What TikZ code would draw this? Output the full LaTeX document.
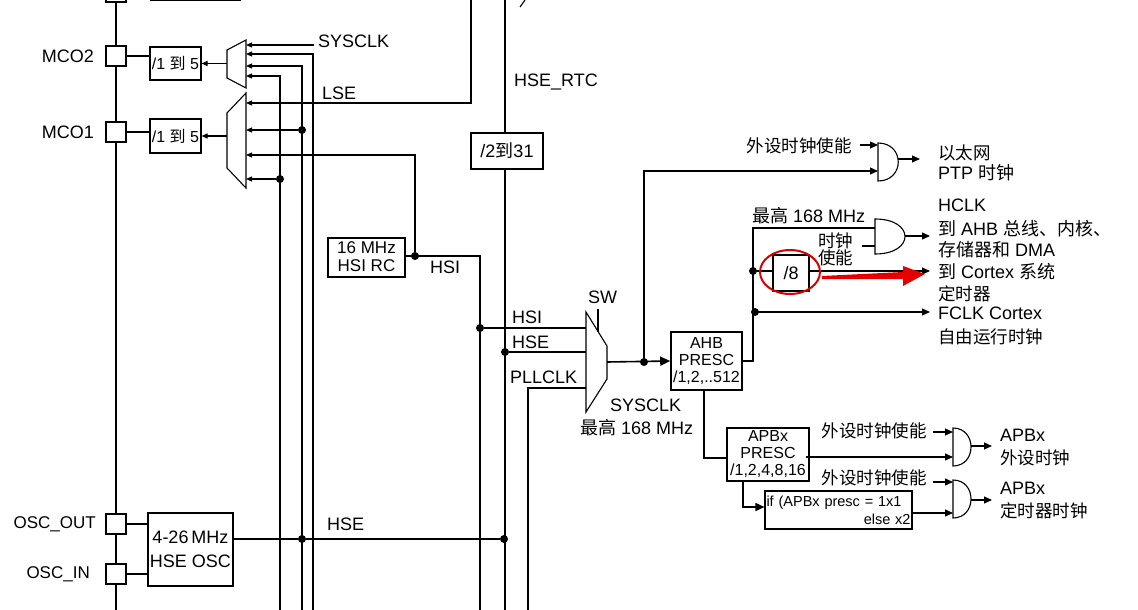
\documentclass[tikz,border=0pt]{standalone}
\usepackage{fontspec}
\setmainfont{Liberation Sans}
\newfontfamily\cjk{Noto Sans CJK SC}
\usetikzlibrary{arrows.meta}
\tikzset{
  wire/.style={line width=1.1pt},
  arr/.style={wire,-{Triangle[length=8pt,width=7pt]}},
  sarr/.style={wire,-{Triangle[length=6pt,width=5pt]}},
  lbl/.style={inner sep=0pt,anchor=west,font=\fontsize{18}{21}\selectfont},
  cjl/.style={lbl,font=\cjk\fontsize{17.5}{20}\selectfont},
  pad/.style={draw,fill=white,line width=1.4pt,minimum size=20pt,inner sep=0pt},
  blk/.style={draw,fill=white,line width=1.1pt,inner sep=0pt,align=center,font=\fontsize{16}{18}\selectfont},
  jdot/.style={circle,fill,inner sep=0pt,minimum size=8pt}
}
% and gate: x, y top, y bottom, bulge
\newcommand\andgate[4]{\draw[wire,fill=white] (#1,#2) -- (#1,#3) .. controls ({#1+#4},#3) and ({#1+#4},#2) .. cycle;}
\begin{document}
\begin{tikzpicture}[x=1pt,y=-1pt]
\useasboundingbox (0,0) rectangle (1138,610);

% pins bus
\draw[line width=2pt] (116,0) -- (116,610);
\draw[line width=1.4pt,fill=white] (106,-10) rectangle (126,2);
\draw[wire] (150,0.5) -- (241,0.5);
\node[pad] (mco2) at (116,56) {};
\node[pad] (mco1) at (116,132) {};
\node[pad] (oscout) at (116,524) {};
\node[pad] (oscin) at (116,574) {};
\node[lbl,anchor=east] at (94,56) {MCO2};
\node[lbl,anchor=east] at (94,132) {MCO1};
\node[lbl,anchor=east,font=\fontsize{17}{20}\selectfont] at (96,524) {OSC\_OUT};
\node[lbl,anchor=east,font=\fontsize{17}{20}\selectfont] at (90,574) {OSC\_IN};

% MCO prescalers
\node[blk,minimum width=51pt,minimum height=33pt] (dv2) at (175.5,63.5) {/1 {\cjk 到} 5};
\node[blk,minimum width=51pt,minimum height=34pt] (dv1) at (175.5,136) {/1 {\cjk 到} 5};
\draw[wire] (mco2.east) -- (mco2.east -| dv2.west);
\draw[wire] (mco1.east) -- (mco1.east -| dv1.west);

% MCO muxes
\draw[wire] (227,50) -- (246,40) -- (246,88) -- (227,78) -- cycle;
\draw[wire] (227,113) -- (246,93) -- (246,188) -- (227,168) -- cycle;
\coordinate (m2o) at (227,63.5);
\coordinate (m1o) at (227,136);
\draw[sarr] (m2o) -- (dv2.east);
\draw[sarr] (m1o) -- (dv1.east);

% mux inputs
\draw[sarr] (314,45) -- (246,45);
\node[lbl] at (318,41) {SYSCLK};
\draw[sarr] (313,610) -- (313,54) -- (246,54);
\draw[sarr] (302,610) -- (302,66) -- (246,66);
\draw[sarr] (280,610) -- (280,76) -- (246,76);
\draw[sarr] (471,0) -- (471,103) -- (246,103);
\node[lbl] at (322,93) {LSE};
\node[jdot] (j302) at (302,130) {};
\draw[sarr] (j302) -- (246,130);
\node[jdot] (j280) at (280,179) {};
\draw[sarr] (j280) -- (246,179);

% HSI RC
\node[blk,line width=2pt,minimum width=77pt,minimum height=39pt,font=\fontsize{17}{18}\selectfont] (hsirc) at (366.5,257) {16 MHz\\HSI RC};
\node[jdot] (jhsi) at (415,256) {};
\draw[sarr] (jhsi) -- (415,155) -- (246,155);
\draw[wire] (hsirc.east |- jhsi) -- (480,256) -- (480,610);
\node[lbl] at (430,267) {HSI};

% HSE_RTC
\draw[wire] (505,0) -- (505,610);
\draw[wire] (520,7) -- (525,0);
\node[blk,line width=1.6pt,minimum width=72pt,minimum height=36pt,font=\fontsize{18}{20}\selectfont] (d231) at (507,151) {/2{\cjk 到}31};
\node[lbl] at (514,82) {HSE\_RTC};

% HSE OSC
\node[blk,line width=1.4pt,minimum width=85pt,minimum height=73pt,font=\fontsize{18}{24}\selectfont] (hseosc) at (190.5,549.5) {4-26\,MHz\\HSE OSC};
\draw[wire] (oscout.east) -- (oscout.east -| hseosc.west);
\draw[wire] (oscin.east) -- (oscin.east -| hseosc.west);
\node[jdot] (jhse1) at (302,539) {};
\node[jdot] (jhse2) at (504,539) {};
\draw[line width=1.6pt] (hseosc.east |- jhse1) -- (jhse1) -- (jhse2);
\node[lbl] at (327,524) {HSE};

% system clock mux
\node[jdot] (jhsi2) at (480,328) {};
\node[jdot] (jhse3) at (505,352) {};
\draw[line width=1.6pt] (jhsi2) -- (586,328);
\draw[wire] (jhse3) -- (586,352);
\draw[wire] (528,610) -- (528,388) -- (586,388);
\node[lbl] at (512,317) {HSI};
\node[lbl] at (512,342) {HSE};
\node[lbl] at (510,377) {PLLCLK};
\draw[wire] (586,312) -- (607,346) -- (607,379) -- (586,412) -- cycle;
\draw[line width=1.6pt] (598,309) -- (598,332);
\node[lbl] at (588,297) {SW};
\node[lbl] at (610,405) {SYSCLK};
\node[lbl] at (580,428) {{\cjk 最高} 168 MHz};

% AHB prescaler
\node[blk,line width=1.6pt,minimum width=71pt,minimum height=58pt,font=\fontsize{16}{17}\selectfont] (ahb) at (706.5,361) {AHB\\PRESC\\/1,2,..512};
\node[jdot] (jsys) at (644,362) {};
\draw[line width=1.6pt,-{Triangle[length=10pt,width=9pt]}] (607,362) -- (ahb.west);
\draw[arr] (jsys) -- (644,171) -- (878,171);

% ethernet PTP
\andgate{878}{143}{181}{27}
\draw[arr] (860,145) -- (878,145);
\node[cjl,anchor=east] at (852,146) {外设时钟使能};
\draw[arr] (898,159) -- (920,159);
\node[cjl] at (938,153) {以太网};
\node[lbl] at (938,173) {PTP {\cjk 时钟}};

% HCLK
\node[jdot] (jd8) at (753,271) {};
\node[jdot] (jfclk) at (755,312) {};
\draw[line width=1.6pt] (742,361) -- (753,361) -- (753,228) -- (875,228);
\andgate{875}{219}{254}{40}
\draw[line width=1.6pt] (862,246) -- (875,246);
\draw[arr] (905,236) -- (930,236);
\node[lbl] at (752,216) {{\cjk 最高} 168 MHz};
\node[cjl,align=center,font=\cjk\fontsize{17.5}{17}\selectfont] at (818,249) {时钟\\使能};
\node[lbl] at (938,205) {HCLK};
\node[lbl] at (938,229) {{\cjk 到} AHB {\cjk 总线、内核、}};
\node[lbl] at (938,250) {{\cjk 存储器和} DMA};

% Cortex system timer
\node[blk,line width=1.6pt,minimum width=36pt,minimum height=36pt,font=\fontsize{18}{20}\selectfont] (d8) at (791,273) {/8};
\draw[wire] (jd8) -- (d8.west |- jd8);
\draw[arr] (d8.east |- jd8) -- (930,271);
\node[lbl] at (938,272) {{\cjk 到} Cortex {\cjk 系统}};
\node[cjl] at (938,294) {定时器};
\draw[arr] (jfclk) -- (930,312);
\node[lbl] at (938,313) {FCLK Cortex};
\node[cjl] at (938,337) {自由运行时钟};

% highlight
\draw[red!85!black,line width=2pt] (790,272) ellipse [x radius=30pt,y radius=22pt];
\fill[red!90!black] (822,276) -- (903,272) -- (903,266) -- (925,274) -- (903,286) -- (903,279) -- (822,279) -- cycle;

% APBx
\node[blk,line width=1.6pt,minimum width=82pt,minimum height=53pt,font=\fontsize{16}{17}\selectfont] (apb) at (768,454.5) {APBx\\PRESC\\/1,2,4,8,16};
\draw[line width=1.6pt] (704,390) -- (704,458) -- (apb.west |- 0,458);
\node[blk,minimum width=147pt,minimum height=38pt,align=left,text width=144pt,font=\fontsize{14.5}{18}\selectfont] (ifbox) at (838.5,510) {if (APBx presc = 1x1\\\hfill else x2};
\draw[line width=1.6pt,-{Triangle[length=9pt,width=8pt]}] (743,481) -- (743,507) -- (ifbox.west |- 0,507);
\andgate{953}{428}{466}{24}
\andgate{953}{480}{518}{24}
\draw[arr] (933,432) -- (953,432);
\draw[arr] (806,457) -- (953,457);
\draw[arr] (933,482) -- (953,482);
\draw[arr] (ifbox.east |- 0,513) -- (953,513);
\draw[arr] (971,446) -- (992,446);
\draw[arr] (971,500) -- (992,500);
\node[cjl,anchor=east] at (927,431) {外设时钟使能};
\node[cjl,anchor=east] at (927,478) {外设时钟使能};
\node[lbl] at (1000,435) {APBx};
\node[cjl] at (1000,458) {外设时钟};
\node[lbl] at (1000,488) {APBx};
\node[cjl] at (1000,511) {定时器时钟};
\end{tikzpicture}
\end{document}
